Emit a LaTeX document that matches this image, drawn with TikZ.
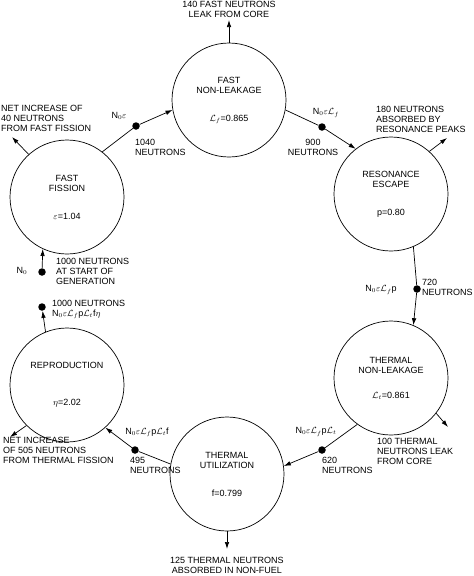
\documentclass[tikz,border=0pt]{standalone}
\usepackage{fontspec}
\setmainfont{Liberation Sans}
\usetikzlibrary{positioning}
\usetikzlibrary{arrows.meta}

\begin{document}
\begin{tikzpicture}[
    x=1pt, y=-1pt,
    stage/.style={circle, draw=black, line width=0.7pt, minimum size=114pt, inner sep=0pt, align=center, font=\fontsize{9}{10}\selectfont},
    flowdot/.style={circle, fill=black, inner sep=0pt, minimum size=7.5pt},
    txt/.style={inner sep=0pt, font=\fontsize{9}{10}\selectfont},
    flow/.style={line width=0.7pt, -{Latex[length=7pt,width=4.5pt]}},
  ]
  \useasboundingbox (0,0) rectangle (474,576);

  % the six stages of one generation
  \node [stage] (FNL) at (229,100) {FAST\\NON-LEAKAGE\\[18pt]$\mathcal{L}_f$=0.865};
  \node [stage] (FF)  at (67,197)  {FAST\\FISSION\\[18pt]$\varepsilon$=1.04};
  \node [stage] (RE)  at (391,194) {RESONANCE\\ESCAPE\\[18pt]p=0.80};
  \node [stage] (TNL) at (391,378) {THERMAL\\NON-LEAKAGE\\[15pt]$\mathcal{L}_t$=0.861};
  \node [stage] (RP)  at (67,385)  {REPRODUCTION\\[27pt]$\eta$=2.02};
  \node [stage] (TU)  at (227,474) {THERMAL\\UTILIZATION\\[18pt]f=0.799};

  % neutron counts between stages
  \node [flowdot] (D1) at (136,126) {};
  \node [flowdot] (D2) at (322,127) {};
  \node [flowdot] (D3) at (417,289) {};
  \node [flowdot] (D4) at (322,450) {};
  \node [flowdot] (D5) at (135,450) {};
  \node [flowdot] (D6) at (42,307) {};
  \node [flowdot] (D7) at (42,272) {};

  \node [txt] (N1) at (119,116) {N$_0\varepsilon$};
  \node [txt, anchor=north west, align=left] (C1) at (135,139) {1040\\NEUTRONS};
  \node [txt] (N2) at (326,113) {N$_0\varepsilon\mathcal{L}_f$};
  \node [txt, anchor=north, align=center] (C2) at (313,139) {900\\NEUTRONS};
  \node [txt] (N3) at (381,290) {N$_0\varepsilon\mathcal{L}_f$p};
  \node [txt, anchor=north west, align=left] (C3) at (422,279) {720\\NEUTRONS};
  \node [txt] (N4) at (316,432) {N$_0\varepsilon\mathcal{L}_f$p$\mathcal{L}_t$};
  \node [txt, anchor=north west, align=left] (C4) at (322,457) {620\\NEUTRONS};
  \node [txt] (N5) at (147,432) {N$_0\varepsilon\mathcal{L}_f$p$\mathcal{L}_t$f};
  \node [txt, anchor=north west, align=left] (C5) at (130,457) {495\\NEUTRONS};
  \node [txt, anchor=north west, align=left] (C6) at (52,300) {1000 NEUTRONS\\N$_0\varepsilon\mathcal{L}_f$p$\mathcal{L}_t$f$\eta$};
  \node [txt] (N7) at (22,271) {N$_0$};
  \node [txt, anchor=north west, align=left] (C7) at (56,258) {1000 NEUTRONS\\AT START OF\\GENERATION};

  \draw [line width=0.7pt] (FF.52) -- (D1);
  \draw [flow] (D1) -- (FNL.190);
  \draw [line width=0.7pt] (FNL.350) -- (D2);
  \draw [flow] (D2) -- (RE.128);
  \draw [line width=0.7pt] (RE.293) -- (D3);
  \draw [flow] (D3) -- (TNL.67);
  \draw [line width=0.7pt] (TNL.234) -- (D4);
  \draw [flow] (D4) -- (TU.8);
  \draw [line width=0.7pt] (TU.170) -- (D5);
  \draw [flow] (D5) -- (RP.312);
  \draw [flow] (RP.112) -- (D6);
  \draw [flow] (D7) -- (FF.245);

  % losses and gains
  \coordinate (OFNL) at (229,20);
  \coordinate (ORE)  at (447,138);
  \coordinate (OFF)  at (12,137);
  \coordinate (ORP)  at (10,437);
  \coordinate (OTNL) at (448,427);
  \coordinate (OTU)  at (227,549);

  \draw [flow] (FNL.north) -- (OFNL);
  \draw [flow] (RE.48) -- (ORE);
  \draw [flow] (FF.132) -- (OFF);
  \draw [flow] (RP.225) -- (ORP);
  \draw [flow] (TNL.322) -- (OTNL);
  \draw [flow] (TU.south) -- (OTU);

  \node [txt, align=center, above=2pt of OFNL] (LFNL) {140 FAST NEUTRONS\\LEAK FROM CORE};
  \node [txt, anchor=north west, align=left] (LRE) at (376,106.5) {180 NEUTRONS\\ABSORBED BY\\RESONANCE PEAKS};
  \node [txt, anchor=north west, align=left] (LFF) at (1,105.5) {NET INCREASE OF\\40 NEUTRONS\\FROM FAST FISSION};
  \node [txt, anchor=north west, align=left] (LRP) at (3,437.5) {NET INCREASE\\OF 505 NEUTRONS\\FROM THERMAL FISSION};
  \node [txt, anchor=north west, align=left] (LTNL) at (377,438.5) {100 THERMAL\\NEUTRONS LEAK\\FROM CORE};
  \node [txt, align=center, below=8pt of OTU] (LTU) {125 THERMAL NEUTRONS\\ABSORBED IN NON-FUEL};

\end{tikzpicture}
\end{document}
